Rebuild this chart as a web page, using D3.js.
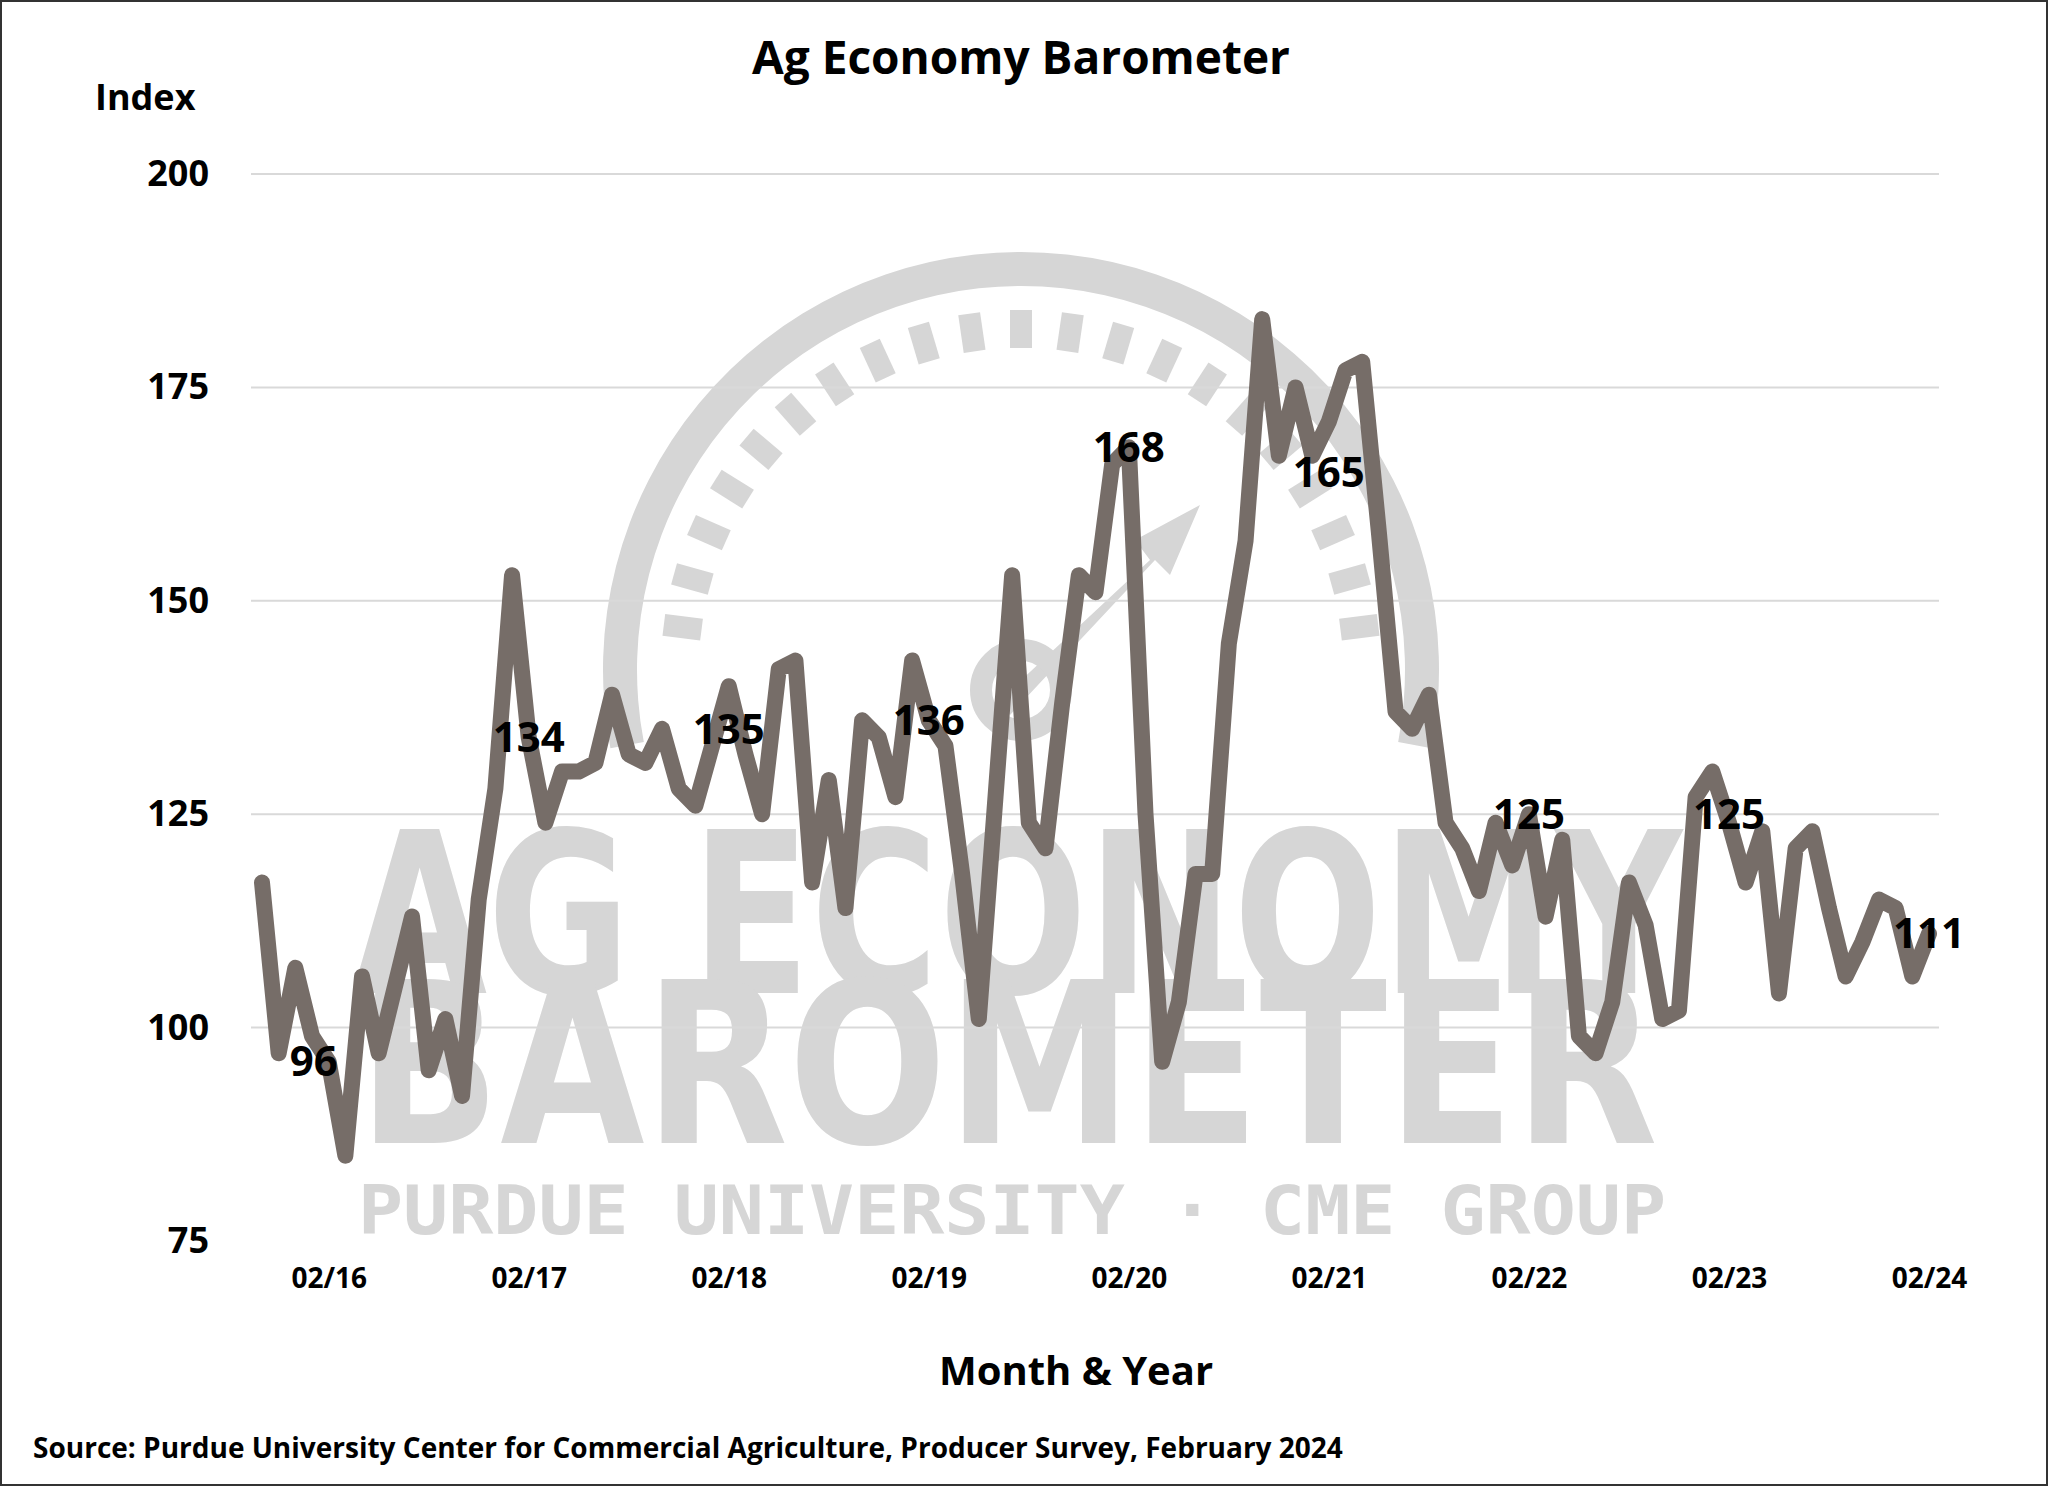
<!DOCTYPE html>
<html>
<head>
<meta charset="utf-8">
<script src="https://cdn.jsdelivr.net/npm/d3@7"></script>
<style>
  body { margin: 0; background: #fff; }
  svg { display: block; }
  text { font-family: "Open Sans", "DejaVu Sans", sans-serif; }
</style>
</head>
<body>
<svg id="chart"></svg>
<script>
// monthly index, Oct 2015 .. Feb 2024
var values = [
  117, 97, 107, 99, 96, 85, 106, 97, 105, 113, 95, 101, 92, 115, 128,   // Oct15 - Dec16
  153, 134, 124, 130, 130, 131, 139, 132, 131, 135, 128, 126,           // 2017
  133, 140, 132, 125, 142, 143, 117, 129, 114, 136, 134, 127,           // 2018
  143, 136, 133, 118, 101, 127, 153, 124, 121, 138, 153, 151,           // 2019
  166, 168, 125, 96, 103, 118, 118, 145, 157, 183, 167, 175,            // 2020
  167, 171, 177, 178, 158, 137, 135, 139, 124, 121, 116, 124,           // 2021
  119, 125, 113, 122, 99, 97, 103, 117, 112, 101, 102, 127,             // 2022
  130, 124, 117, 123, 104, 121, 123, 114, 106, 110, 115, 114,           // 2023
  106, 111                                                              // 2024
];
var tickLabels = ["02/16", "02/17", "02/18", "02/19", "02/20", "02/21", "02/22", "02/23", "02/24"];
var tickIndex = [4, 16, 28, 40, 52, 64, 76, 88, 100];
var labelValues = [96, 134, 135, 136, 168, 165, 125, 125, 111];
var yTicks = [75, 100, 125, 150, 175, 200];

var W = 2048, H = 1486;
var svg = d3.select('#chart').attr('width', W).attr('height', H);

svg.append('rect').attr('x', 1).attr('y', 1).attr('width', W - 2).attr('height', H - 2)
    .attr('fill', '#fff').attr('stroke', '#333').attr('stroke-width', 2);

var x = d3.scaleLinear().domain([0, values.length - 1]).range([262, 1929]);
var y = d3.scaleLinear().domain([75, 200]).range([1241, 174]);

// watermark
var wm = svg.append('g').attr('fill', '#d6d6d6');
var cx = 1021, cy = 670, r = 418;
wm.append('path')
    .attr('d', d3.arc().innerRadius(r - 34).outerRadius(r)
        .startAngle(-Math.PI * 0.56).endAngle(Math.PI * 0.56)())
    .attr('transform', 'translate(' + cx + ',' + cy + ')');
for (var a = -0.46; a <= 0.461; a += 0.046) {
    var deg = a * 180;
    wm.append('rect').attr('x', -11).attr('y', -(r - 58)).attr('width', 22).attr('height', 38)
        .attr('transform', 'translate(' + cx + ',' + cy + ') rotate(' + deg + ')');
}
// arrow needle
wm.append('path').attr('d', 'M1000,700 L1150,560 L1135,540 L1200,505 L1170,575 L1155,560 L1010,715 Z');
wm.append('circle').attr('cx', 1021).attr('cy', 690).attr('r', 40)
    .attr('fill', 'none').attr('stroke', '#d6d6d6').attr('stroke-width', 22);

wm.append('text').attr('x', 352).attr('y', 993).attr('textLength', 1330)
    .attr('lengthAdjust', 'spacingAndGlyphs')
    .style('font-family', 'DejaVu Sans').style('font-weight', 'bold').style('font-size', '225px')
    .text('AG ECONOMY');
wm.append('text').attr('x', 358).attr('y', 1143).attr('textLength', 1300)
    .attr('lengthAdjust', 'spacingAndGlyphs')
    .style('font-family', 'DejaVu Sans').style('font-weight', 'bold').style('font-size', '225px')
    .text('BAROMETER');
wm.append('text').attr('x', 358).attr('y', 1234).attr('textLength', 1308)
    .attr('lengthAdjust', 'spacingAndGlyphs')
    .style('font-family', 'DejaVu Sans Mono').style('font-weight', 'bold').style('font-size', '68px')
    .text('PURDUE UNIVERSITY · CME GROUP');

// gridlines
svg.append('g').selectAll('line').data(yTicks.slice(1)).enter().append('line')
    .attr('x1', 251).attr('x2', 1939)
    .attr('y1', function (d) { return y(d); }).attr('y2', function (d) { return y(d); })
    .attr('stroke', '#d9d9d9').attr('stroke-width', 2);

// y axis labels
var yAxis = d3.axisLeft(y).tickValues(yTicks).tickSize(0).tickPadding(0);
var gy = svg.append('g').attr('transform', 'translate(209,0)').call(yAxis);
gy.select('.domain').remove();
gy.selectAll('text').style('font-size', '36px').style('font-weight', 'bold').attr('fill', '#000')
    .style('font-family', '"Open Sans", sans-serif');

// x axis labels
var xAxis = d3.axisBottom(x).tickValues(tickIndex)
    .tickFormat(function (d, i) { return tickLabels[i]; }).tickSize(0).tickPadding(0);
var gx = svg.append('g').attr('transform', 'translate(0,1268)').call(xAxis);
gx.select('.domain').remove();
gx.selectAll('text').style('font-size', '28px').style('font-weight', 'bold').attr('fill', '#000')
    .style('font-family', '"Open Sans", sans-serif');

// line
var line = d3.line().x(function (d, i) { return x(i); }).y(function (d) { return y(d); });
svg.append('path').datum(values).attr('d', line)
    .attr('fill', 'none').attr('stroke', '#766d68').attr('stroke-width', 16)
    .attr('stroke-linejoin', 'round').attr('stroke-linecap', 'round');

// data labels
svg.append('g').selectAll('text').data(labelValues).enter().append('text')
    .attr('x', function (d, i) { return x(tickIndex[i]) - (i == 0 ? 15 : 0); })
    .attr('y', function (d) { return y(d); })
    .attr('dy', '0.35em').attr('text-anchor', 'middle')
    .style('font-size', '42px').style('font-weight', 'bold').attr('fill', '#000')
    .text(function (d) { return d; });

// titles
svg.append('text').attr('x', 1021).attr('y', 74).attr('text-anchor', 'middle')
    .style('font-size', '46px').style('font-weight', 'bold').text('Ag Economy Barometer');
svg.append('text').attr('x', 95).attr('y', 110)
    .style('font-size', '36px').style('font-weight', 'bold').text('Index');
svg.append('text').attr('x', 1076).attr('y', 1385).attr('text-anchor', 'middle')
    .style('font-size', '40px').style('font-weight', 'bold').text('Month & Year');
svg.append('text').attr('x', 33).attr('y', 1458)
    .style('font-size', '28px').style('font-weight', 'bold')
    .text('Source: Purdue University Center for Commercial Agriculture, Producer Survey, February 2024');
</script>
</body>
</html>
